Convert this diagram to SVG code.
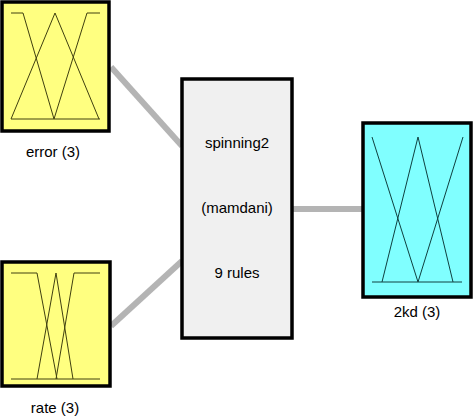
<svg xmlns="http://www.w3.org/2000/svg" width="474" height="418" viewBox="0 0 474 418">
<style>
.box{stroke:#000;stroke-width:3.5}
.in{fill:#ffff80}
.out{fill:#80ffff}
.sys{fill:#f0f0f0}
.mf{fill:none;stroke:#404010;stroke-width:1}
.mfo{fill:none;stroke:#104040;stroke-width:1}
.conn{stroke:#b4b4b4;stroke-width:6;fill:none}
text{font-family:"Liberation Sans",Arial,sans-serif;font-size:15px;fill:#000;text-anchor:middle}
</style>
<rect width="474" height="418" fill="#fff"/>
<g id="connectors">
<line class="conn" x1="111" y1="67" x2="182" y2="146"/>
<line class="conn" x1="111" y1="326" x2="182" y2="261"/>
<line class="conn" x1="292" y1="209" x2="362" y2="209"/>
</g>
<g id="error">
<rect class="box in" x="2" y="2" width="107" height="129"/>
<polyline class="mf" points="11,13 23,13 54,119"/>
<polyline class="mf" points="11,119 55,13 99,119"/>
<polyline class="mf" points="54,119 87,13 100,13"/>
<line class="mf" x1="11" y1="119" x2="100" y2="119"/>
<text x="53" y="157">error (3)</text>
</g>
<g id="rate">
<rect class="box in" x="2" y="262" width="108" height="124"/>
<polyline class="mf" points="11,273 37,273 57,379"/>
<polyline class="mf" points="37,379 56,273 73,379"/>
<polyline class="mf" points="56,379 74,273 100,273"/>
<line class="mf" x1="11" y1="379" x2="100" y2="379"/>
<text x="55" y="413">rate (3)</text>
</g>
<g id="spinning2">
<rect class="box sys" x="182" y="79" width="110" height="259"/>
<text x="237" y="148">spinning2</text>
<text x="237" y="213">(mamdani)</text>
<text x="237" y="278">9 rules</text>
</g>
<g id="kd">
<rect class="box out" x="363" y="123" width="108" height="174"/>
<polyline class="mfo" points="372,137 418,282"/>
<polyline class="mfo" points="382,282 418,137 453,282"/>
<polyline class="mfo" points="418,282 463,137"/>
<line class="mfo" x1="372" y1="282" x2="462" y2="282"/>
<text x="417" y="317">2kd (3)</text>
</g>
</svg>
